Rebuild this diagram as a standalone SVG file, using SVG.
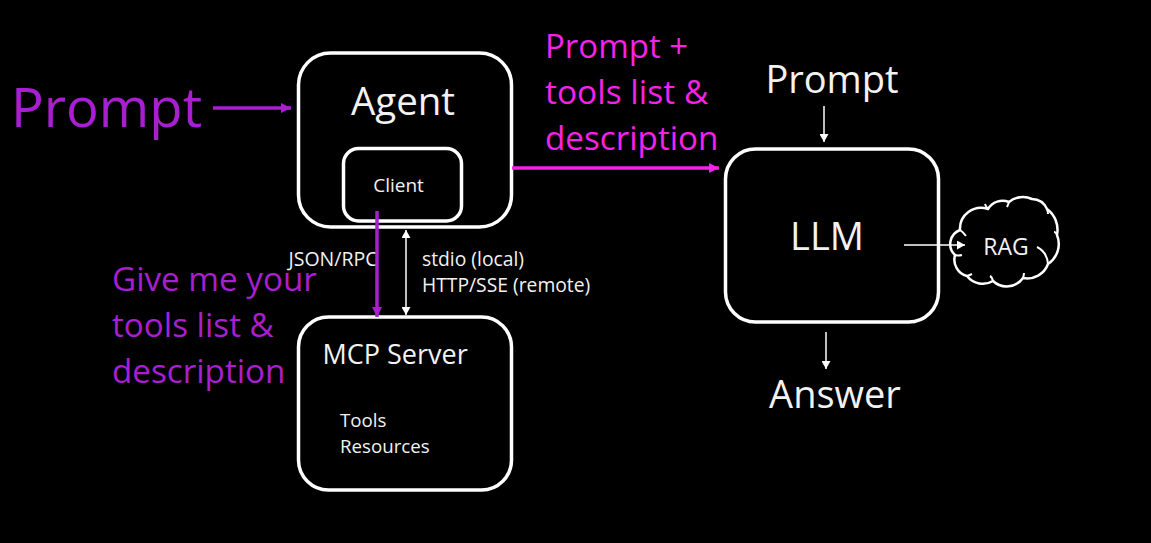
<svg xmlns="http://www.w3.org/2000/svg" width="1151" height="543" viewBox="0 0 1151 543">
<defs>
<style>
text{font-family:"Open Sans","Noto Sans","Liberation Sans",sans-serif;fill:#f2f2f2}
.box{fill:#000;stroke:#fff;stroke-width:3.5}
.w{stroke:#fff;stroke-width:1.5;fill:none}
.p{stroke:#a81fd0;stroke-width:3.5;fill:none}
.m{stroke:#f522e8;stroke-width:3.5;fill:none}
text.pt{fill:#a81fd0}
text.mt{fill:#f522e8}
</style>
<marker id="aw" markerUnits="userSpaceOnUse" markerWidth="9" markerHeight="9" refX="8" refY="4.5" orient="auto-start-reverse"><path d="M0 0L8 4.500L0 9z" fill="#fff"/></marker>
<marker id="ap" markerUnits="userSpaceOnUse" markerWidth="12" markerHeight="12" refX="10" refY="5" orient="auto"><path d="M0 0L10 5L0 10z" fill="#a81fd0"/></marker>
<marker id="am" markerUnits="userSpaceOnUse" markerWidth="12" markerHeight="12" refX="10" refY="5" orient="auto"><path d="M0 0L10 5L0 10z" fill="#f522e8"/></marker>
</defs>
<rect width="1151" height="543" fill="#000"/>
<g id="agent"><rect class="box" x="298.500" y="53" width="213" height="174" rx="32"/><text x="403" y="114.500" font-size="38.500" text-anchor="middle">Agent</text></g>
<g id="client"><rect class="box" x="343.500" y="148.500" width="118" height="72.500" rx="15"/><text x="398.500" y="192" font-size="19" text-anchor="middle">Client</text></g>
<g id="mcp-server"><rect class="box" x="298.500" y="317" width="213" height="173" rx="30"/><text x="322.500" y="364" font-size="27">MCP Server</text><text x="340" y="427" font-size="18.700">Tools</text><text x="340" y="453" font-size="18.700">Resources</text></g>
<g id="llm"><rect class="box" x="725.500" y="149" width="213" height="173" rx="30"/><text x="827" y="250" font-size="38" text-anchor="middle">LLM</text></g>
<g id="rag"><path d="M960 230A21 21 0 0 1 988 209A17 17 0 0 1 1009 202A22 22 0 0 1 1032 199A17 17 0 0 1 1047 209A26 26 0 0 1 1057 235A24 24 0 0 1 1048 264A22 22 0 0 1 1023 278A20 20 0 0 1 993 281A20 20 0 0 1 967 276A17 17 0 0 1 955 255A15 15 0 0 1 960 230Z" fill="#000" stroke="#fff" stroke-width="2.500" stroke-linejoin="round"/><path d="M988 209Q986 207 985 204M1009 202Q1008 205 1007 207M1047 209Q1048 212 1048 214M1057 235Q1056 232 1054 232M1048 264Q1047 252 1037 247M1023 278Q1024 275 1024 273M993 281Q992 277 990 276M967 276Q970 275 972 274M955 255Q958 256 962 255M960 230Q963 232 966 236" fill="none" stroke="#fff" stroke-width="2"/><text x="1006" y="255" font-size="23" text-anchor="middle">RAG</text></g>
<text x="288.500" y="265.500" font-size="19.500">JSON/RPC</text>
<g id="connectors">
<path class="p" d="M213 108H291" stroke-width="2.500" marker-end="url(#ap)"/>
<path class="m" d="M512 168H719" marker-end="url(#am)"/>
<path class="p" d="M377 211V317" marker-end="url(#ap)"/>
<path class="w" d="M406 230V315" marker-start="url(#aw)" marker-end="url(#aw)"/>
<path class="w" d="M824 106V142" marker-end="url(#aw)"/>
<path class="w" d="M826 332V369" marker-end="url(#aw)"/>
<path class="w" d="M904 245H965" stroke-width="2" marker-end="url(#aw)"/>
</g>
<g id="labels">
<text x="11" y="127" font-size="54.500" class="pt">Prompt</text>
<text x="545" y="58" font-size="33" class="mt">Prompt +</text>
<text x="545" y="104" font-size="33.500" class="mt">tools list &amp;</text>
<text x="545" y="150" font-size="33.200" class="mt">description</text>
<text x="112" y="291" font-size="33.200" class="pt">Give me your</text>
<text x="112" y="337" font-size="33.200" class="pt">tools list &amp;</text>
<text x="112" y="383" font-size="33.200" class="pt">description</text>
<text x="422" y="265.500" font-size="19.300">stdio (local)</text>
<text x="422" y="291.500" font-size="19.300">HTTP/SSE (remote)</text>
<text x="832" y="93" font-size="38" text-anchor="middle">Prompt</text>
<text x="835" y="407.500" font-size="38" text-anchor="middle">Answer</text>
</g>
</svg>
